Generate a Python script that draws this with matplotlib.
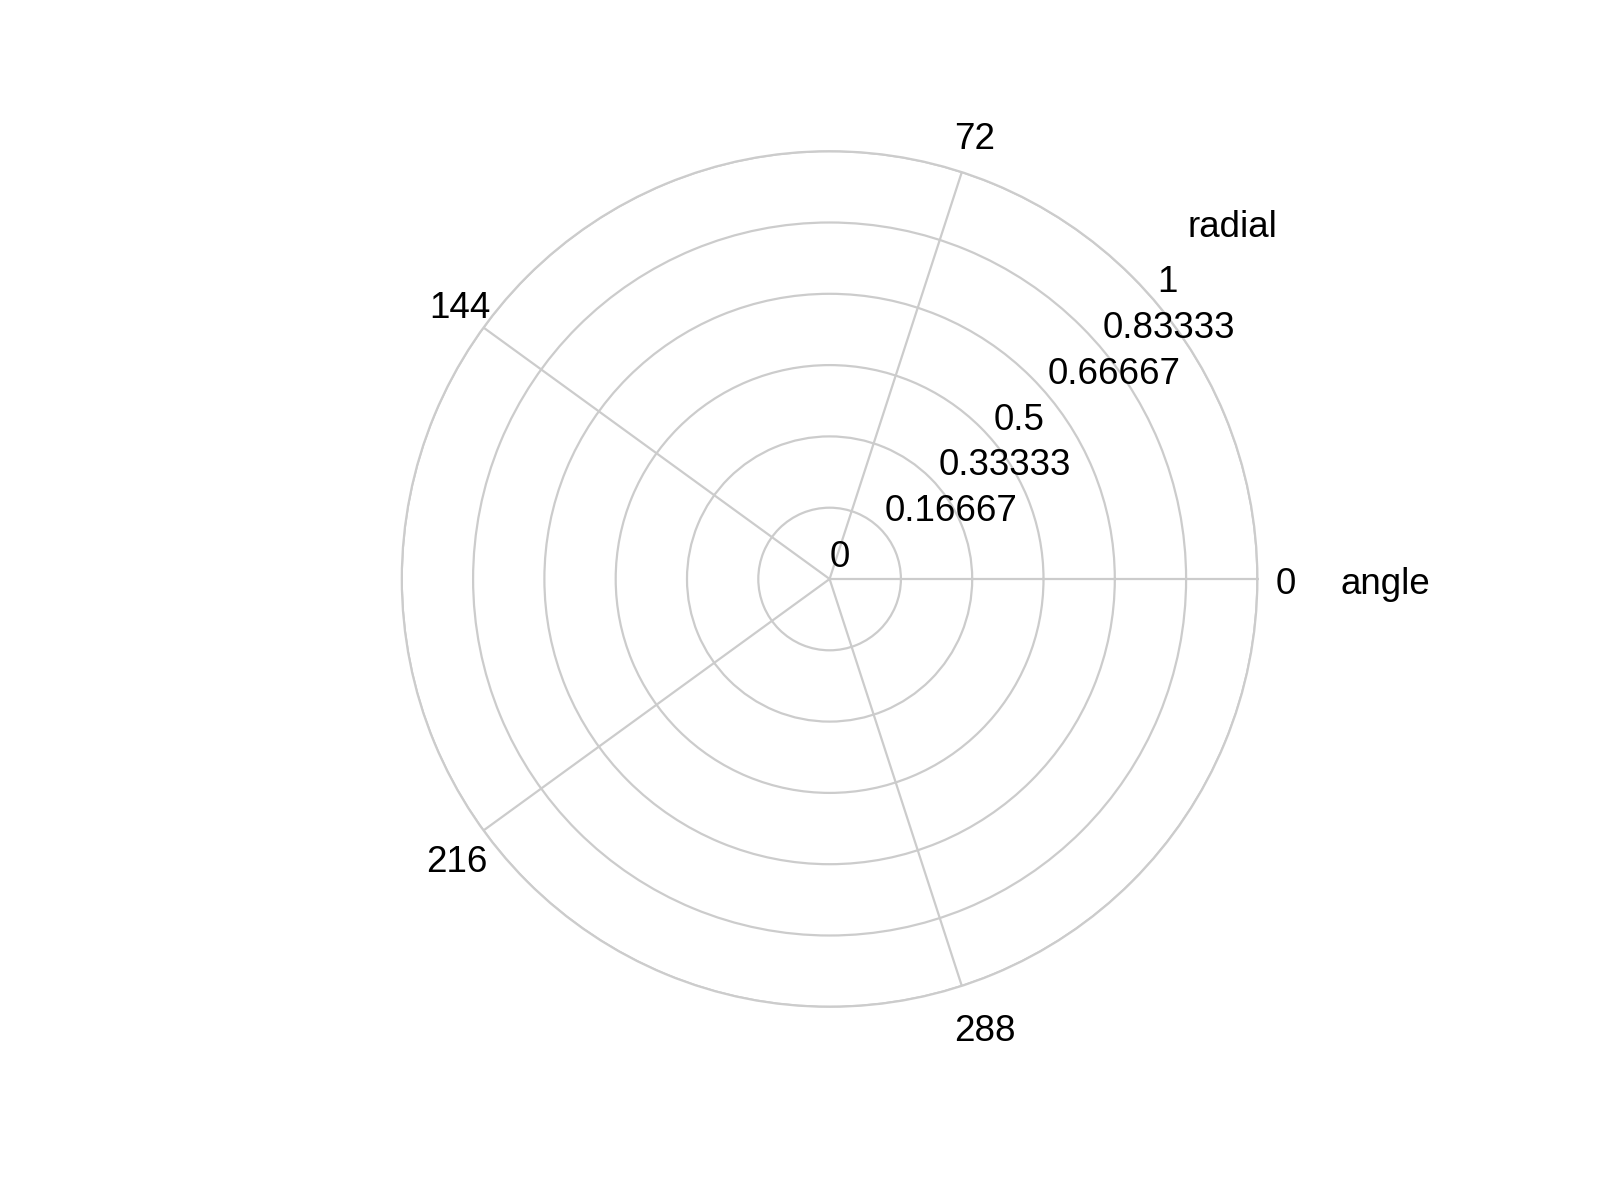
import numpy as np
import matplotlib.pyplot as plt
from matplotlib.transforms import offset_copy

plt.rcParams['font.family'] = ['Liberation Sans', 'DejaVu Sans']

# tick values
theta_ticks = [0, 72, 144, 216, 288]
r_ticks = [0, 0.16667, 0.33333, 0.5, 0.66667, 0.83333, 1]
r_label_angle = 40
GRID = '#cccccc'
FS = 26.5

# where each angle label sits relative to the outer ring (pixels, y up)
theta_label_shift = {0: (28, -5), 72: (13, 33), 144: (-24, 19), 216: (-27, -32), 288: (23, -46)}

fig = plt.figure(figsize=(16, 12), dpi=100)
ax = fig.add_axes([0.251, 0.161, 0.535, 0.713], projection='polar')

ax.set_ylim(0, 1)
ax.set_thetagrids(theta_ticks, ['' for t in theta_ticks])
ax.set_rticks(r_ticks[1:])
ax.set_yticklabels([])
ax.grid(True, color=GRID, linewidth=1.6)
ax.spines['polar'].set_color(GRID)
ax.spines['polar'].set_linewidth(1.6)

# angular tick labels outside the outer ring
for t in theta_ticks:
    dx, dy = theta_label_shift[t]
    tr = offset_copy(ax.transData, fig=fig, x=dx, y=dy, units='dots')
    ax.text(np.deg2rad(t), 1, str(t), ha='center', va='center', fontsize=FS,
            transform=tr, clip_on=False)

# radial tick labels, left aligned along a 40 deg line
tr = offset_copy(ax.transData, fig=fig, x=0, y=12, units='dots')
for r in r_ticks:
    ax.text(np.deg2rad(r_label_angle), r, f'{r:.5g}', ha='left', va='baseline',
            fontsize=FS, transform=tr)

ax.text(0.918, 0.90, 'radial', transform=ax.transAxes, ha='left', va='baseline', fontsize=FS)
ax.text(1.097, 0.494, 'angle', transform=ax.transAxes, ha='left', va='center', fontsize=FS)

fig.savefig('out.png', dpi=100, facecolor='white')
